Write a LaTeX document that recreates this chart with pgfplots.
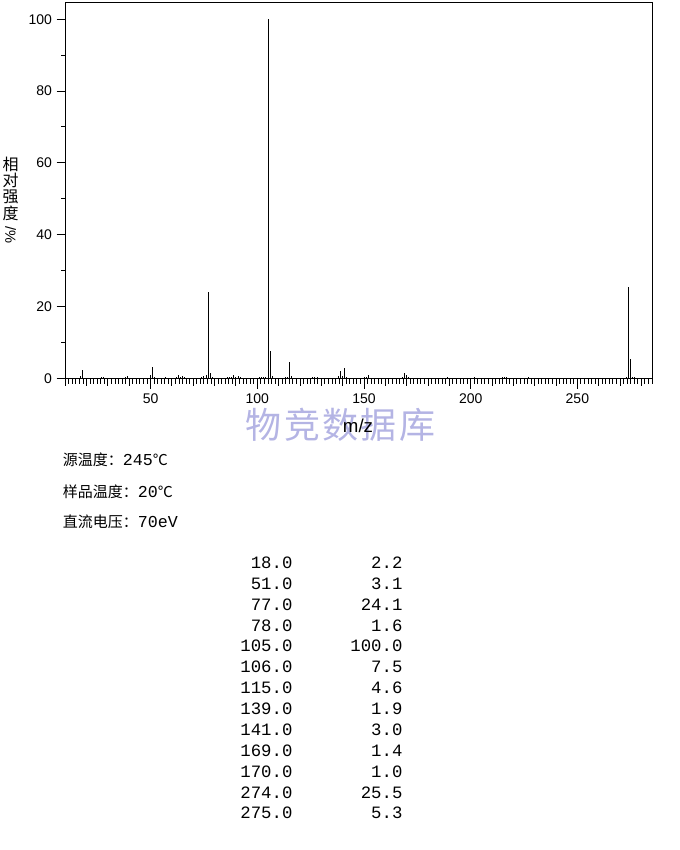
\documentclass[border=0pt]{standalone}
\usepackage{fontspec}
\setmainfont{Liberation Sans}
\newfontfamily\cjk{Noto Sans CJK SC}
\newfontfamily\mono{Liberation Mono}
\usepackage{pgfplots}
\pgfplotsset{compat=1.18}
\definecolor{wm}{RGB}{180,180,228}

\pgfplotstableread{
mz int
17 0.6
18 2.2
27 0.3
28 0.3
38 0.4
39 0.6
50 0.9
51 3.1
52 0.3
57 0.3
62 0.4
63 0.9
64 0.5
65 0.6
66 0.3
74 0.4
75 0.6
76 1.0
77 24.1
78 1.6
79 0.3
86 0.3
87 0.3
88 0.3
89 0.8
90 0.4
91 0.6
92 0.3
101 0.3
102 0.5
103 0.4
104 0.4
105 100.0
106 7.5
107 0.6
113 0.5
114 0.4
115 4.6
116 0.6
126 0.3
127 0.3
128 0.3
138 0.6
139 1.9
140 0.6
141 3.0
142 0.5
150 0.4
151 0.5
152 0.9
168 0.5
169 1.4
170 1.0
171 0.3
189 0.3
202 0.3
215 0.3
216 0.4
217 0.3
227 0.3
273 0.4
274 25.5
275 5.3
276 0.5
277 0.3
}\spectrum

\pgfplotsset{
  myaxis/.style={
    at={(48.975pt,-283.725pt)}, anchor=south west,
    scale only axis, width=440.55pt, height=281.7pt,
    xmin=10, xmax=285.3, ymin=0, ymax=104.6,
    axis line style={line width=0.75pt, black},
    tick style={line width=0.75pt, black},
    tick align=outside, tick pos=left,
    /pgf/number format/assume math mode=true,
    tick label style={font=\fontsize{10.5}{12}\selectfont},
  }
}

\begin{document}
\begin{tikzpicture}
\begin{scope}[x=0.75pt,y=-0.75pt]
\path[use as bounding box] (0,0) rectangle (680,850);
% watermark
\node[text=wm, font=\cjk\fontsize{27}{28}\selectfont, inner sep=0] at (340.5,424.5) {物\kern1.8pt 竞\kern1.8pt 数\kern1.8pt 据\kern1.8pt 库};
\end{scope}

% medium ticks every 10
\begin{axis}[myaxis,
  hide y axis, axis x line*=bottom,
  xtick={10,20,...,280}, xticklabels={},
  major tick length=5.5pt,
]
\end{axis}

% major/minor x ticks with labels
\begin{axis}[myaxis,
  hide y axis, axis x line*=bottom,
  xtick={50,100,...,250},
  minor xtick={10,11.66667,...,285},
  major tick length=8pt, minor tick length=4pt,
]
\end{axis}

% data, frame, y ticks
\begin{axis}[myaxis,
  xtick=\empty,
  ytick={0,20,...,100},
  minor ytick={10,30,...,90},
  major tick length=6.5pt, minor tick length=3.2pt,
]
\addplot[ycomb, black, line width=0.75pt, mark=none] table[x=mz, y=int] {\spectrum};
\end{axis}

\begin{scope}[x=0.75pt,y=-0.75pt]
% y label
\node[font=\cjk\fontsize{12}{12}\selectfont, inner sep=0] at (10.5,164.5) {相};
\node[font=\cjk\fontsize{12}{12}\selectfont, inner sep=0] at (10.5,180.5) {对};
\node[font=\cjk\fontsize{12}{12}\selectfont, inner sep=0] at (10.5,197) {强};
\node[font=\cjk\fontsize{12}{12}\selectfont, inner sep=0] at (10.5,213.5) {度};
\node[font=\fontsize{11}{12}\selectfont, inner sep=0, rotate=-90] at (10.5,235) {/\%};
% x label
\node[font=\fontsize{14}{15}\selectfont, inner sep=0] at (358,426) {m/z};
% info lines
\node[font=\cjk\fontsize{11.25}{13}\selectfont, anchor=west, inner sep=0] at (62.7,460) {源温度：{\mono\fontsize{12.5}{13}\selectfont 245}℃};
\node[font=\cjk\fontsize{11.25}{13}\selectfont, anchor=west, inner sep=0] at (62.7,491.7) {样品温度：{\mono\fontsize{12.5}{13}\selectfont 20}℃};
\node[font=\cjk\fontsize{11.25}{13}\selectfont, anchor=west, inner sep=0] at (62.7,521.7) {直流电压：{\mono\fontsize{12.5}{13}\selectfont 70eV}};
% peak table
\foreach \a/\b [count=\i from 0] in {18.0/2.2, 51.0/3.1, 77.0/24.1, 78.0/1.6, 105.0/100.0, 106.0/7.5, 115.0/4.6, 139.0/1.9, 141.0/3.0, 169.0/1.4, 170.0/1.0, 274.0/25.5, 275.0/5.3}{
  \node[font=\mono\fontsize{13}{15}\selectfont, anchor=east, inner sep=0] at (292.7,562.7+20.88*\i) {\a};
  \node[font=\mono\fontsize{13}{15}\selectfont, anchor=east, inner sep=0] at (402.7,562.7+20.88*\i) {\b};
}
\end{scope}
\end{tikzpicture}
\end{document}
